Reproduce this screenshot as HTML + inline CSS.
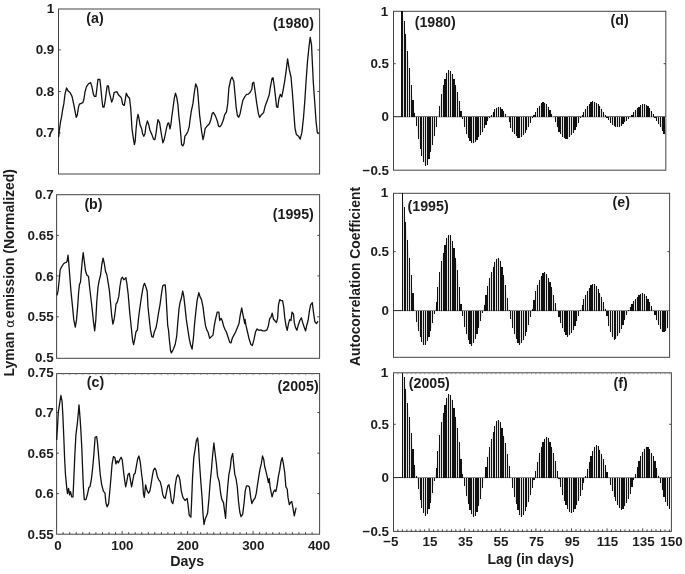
<!DOCTYPE html>
<html lang="en"><head><meta charset="utf-8"><title>Lyman alpha emission and autocorrelation</title>
<style>html,body{margin:0;padding:0;background:#fff}svg{display:block}</style></head>
<body>
<svg width="685" height="574" viewBox="0 0 685 574" style="display:block">
<rect width="685" height="574" fill="#fff"/>
<g fill="none" stroke="#444" stroke-width="1">
<rect x="58.5" y="9.0" width="261.1" height="165.0"/>
<rect x="56.6" y="194.7" width="263.0" height="163.6"/>
<rect x="56.6" y="373.6" width="263.0" height="160.6"/>
<rect x="393.5" y="11.3" width="272.3" height="158.9"/>
<rect x="393.5" y="193.3" width="276.1" height="164.0"/>
<rect x="393.5" y="372.8" width="277.9" height="158.6"/>
</g>
<path d="M58.5 49.9 h2.2 M319.6 49.9 h-2.2 M58.5 91.5 h2.2 M319.6 91.5 h-2.2 M58.5 132.9 h2.2 M319.6 132.9 h-2.2 M56.6 235.4 h2.2 M319.6 235.4 h-2.2 M56.6 275.9 h2.2 M319.6 275.9 h-2.2 M56.6 316.8 h2.2 M319.6 316.8 h-2.2 M56.6 412.5 h2.2 M319.6 412.5 h-2.2 M56.6 453.2 h2.2 M319.6 453.2 h-2.2 M56.6 493.6 h2.2 M319.6 493.6 h-2.2 M63.1 534.2 v-2.0 M69.7 534.2 v-2.0 M76.2 534.2 v-2.0 M82.8 534.2 v-2.0 M89.3 534.2 v-2.0 M95.9 534.2 v-2.0 M102.5 534.2 v-2.0 M109.0 534.2 v-2.0 M115.5 534.2 v-2.0 M122.1 534.2 v-3.0 M128.7 534.2 v-2.0 M135.2 534.2 v-2.0 M141.8 534.2 v-2.0 M148.3 534.2 v-2.0 M154.8 534.2 v-2.0 M161.4 534.2 v-2.0 M167.9 534.2 v-2.0 M174.5 534.2 v-2.0 M181.1 534.2 v-2.0 M187.6 534.2 v-3.0 M194.1 534.2 v-2.0 M200.7 534.2 v-2.0 M207.2 534.2 v-2.0 M213.8 534.2 v-2.0 M220.3 534.2 v-2.0 M226.9 534.2 v-2.0 M233.4 534.2 v-2.0 M240.0 534.2 v-2.0 M246.5 534.2 v-2.0 M253.1 534.2 v-3.0 M259.6 534.2 v-2.0 M266.2 534.2 v-2.0 M272.8 534.2 v-2.0 M279.3 534.2 v-2.0 M285.9 534.2 v-2.0 M292.4 534.2 v-2.0 M298.9 534.2 v-2.0 M305.5 534.2 v-2.0 M312.1 534.2 v-2.0 M393.5 63.7 h2.2 M665.8 63.7 h-2.2 M393.5 251.6 h2.2 M669.6 251.6 h-2.2 M393.5 424.3 h2.2 M671.4 424.3 h-2.2 M397.9 531.4 v-2.0 M402.4 531.4 v-2.0 M406.9 531.4 v-2.0 M411.3 531.4 v-2.0 M415.8 531.4 v-2.0 M420.2 531.4 v-2.0 M424.6 531.4 v-2.0 M429.1 531.4 v-3.0 M433.6 531.4 v-2.0 M438.0 531.4 v-2.0 M442.4 531.4 v-2.0 M446.9 531.4 v-2.0 M451.4 531.4 v-2.0 M455.8 531.4 v-2.0 M460.2 531.4 v-2.0 M464.7 531.4 v-3.0 M469.1 531.4 v-2.0 M473.6 531.4 v-2.0 M478.1 531.4 v-2.0 M482.5 531.4 v-2.0 M486.9 531.4 v-2.0 M491.4 531.4 v-2.0 M495.9 531.4 v-2.0 M500.3 531.4 v-3.0 M504.8 531.4 v-2.0 M509.2 531.4 v-2.0 M513.6 531.4 v-2.0 M518.1 531.4 v-2.0 M522.5 531.4 v-2.0 M527.0 531.4 v-2.0 M531.5 531.4 v-2.0 M535.9 531.4 v-3.0 M540.4 531.4 v-2.0 M544.8 531.4 v-2.0 M549.2 531.4 v-2.0 M553.7 531.4 v-2.0 M558.1 531.4 v-2.0 M562.6 531.4 v-2.0 M567.0 531.4 v-2.0 M571.5 531.4 v-3.0 M576.0 531.4 v-2.0 M580.4 531.4 v-2.0 M584.9 531.4 v-2.0 M589.3 531.4 v-2.0 M593.8 531.4 v-2.0 M598.2 531.4 v-2.0 M602.6 531.4 v-2.0 M607.1 531.4 v-3.0 M611.5 531.4 v-2.0 M616.0 531.4 v-2.0 M620.5 531.4 v-2.0 M624.9 531.4 v-2.0 M629.4 531.4 v-2.0 M633.8 531.4 v-2.0 M638.2 531.4 v-2.0 M642.7 531.4 v-3.0 M647.1 531.4 v-2.0 M651.6 531.4 v-2.0 M656.0 531.4 v-2.0 M660.5 531.4 v-2.0 M665.0 531.4 v-2.0 M669.4 531.4 v-2.0" stroke="#444" stroke-width="1" fill="none"/>
<path d="M63.1 373.6 v1.5 M69.7 373.6 v1.5 M76.2 373.6 v1.5 M82.8 373.6 v1.5 M89.3 373.6 v1.5 M95.9 373.6 v1.5 M102.5 373.6 v1.5 M109.0 373.6 v1.5 M115.5 373.6 v1.5 M122.1 373.6 v1.5 M128.7 373.6 v1.5 M135.2 373.6 v1.5 M141.8 373.6 v1.5 M148.3 373.6 v1.5 M154.8 373.6 v1.5 M161.4 373.6 v1.5 M167.9 373.6 v1.5 M174.5 373.6 v1.5 M181.1 373.6 v1.5 M187.6 373.6 v1.5 M194.1 373.6 v1.5 M200.7 373.6 v1.5 M207.2 373.6 v1.5 M213.8 373.6 v1.5 M220.3 373.6 v1.5 M226.9 373.6 v1.5 M233.4 373.6 v1.5 M240.0 373.6 v1.5 M246.5 373.6 v1.5 M253.1 373.6 v1.5 M259.6 373.6 v1.5 M266.2 373.6 v1.5 M272.8 373.6 v1.5 M279.3 373.6 v1.5 M285.9 373.6 v1.5 M292.4 373.6 v1.5 M298.9 373.6 v1.5 M305.5 373.6 v1.5 M312.1 373.6 v1.5 M397.9 372.8 v1.5 M402.4 372.8 v1.5 M406.9 372.8 v1.5 M411.3 372.8 v1.5 M415.8 372.8 v1.5 M420.2 372.8 v1.5 M424.6 372.8 v1.5 M429.1 372.8 v1.5 M433.6 372.8 v1.5 M438.0 372.8 v1.5 M442.4 372.8 v1.5 M446.9 372.8 v1.5 M451.4 372.8 v1.5 M455.8 372.8 v1.5 M460.2 372.8 v1.5 M464.7 372.8 v1.5 M469.1 372.8 v1.5 M473.6 372.8 v1.5 M478.1 372.8 v1.5 M482.5 372.8 v1.5 M486.9 372.8 v1.5 M491.4 372.8 v1.5 M495.9 372.8 v1.5 M500.3 372.8 v1.5 M504.8 372.8 v1.5 M509.2 372.8 v1.5 M513.6 372.8 v1.5 M518.1 372.8 v1.5 M522.5 372.8 v1.5 M527.0 372.8 v1.5 M531.5 372.8 v1.5 M535.9 372.8 v1.5 M540.4 372.8 v1.5 M544.8 372.8 v1.5 M549.2 372.8 v1.5 M553.7 372.8 v1.5 M558.1 372.8 v1.5 M562.6 372.8 v1.5 M567.0 372.8 v1.5 M571.5 372.8 v1.5 M576.0 372.8 v1.5 M580.4 372.8 v1.5 M584.9 372.8 v1.5 M589.3 372.8 v1.5 M593.8 372.8 v1.5 M598.2 372.8 v1.5 M602.6 372.8 v1.5 M607.1 372.8 v1.5 M611.5 372.8 v1.5 M616.0 372.8 v1.5 M620.5 372.8 v1.5 M624.9 372.8 v1.5 M629.4 372.8 v1.5 M633.8 372.8 v1.5 M638.2 372.8 v1.5 M642.7 372.8 v1.5 M647.1 372.8 v1.5 M651.6 372.8 v1.5 M656.0 372.8 v1.5 M660.5 372.8 v1.5 M665.0 372.8 v1.5 M669.4 372.8 v1.5" stroke="#888" stroke-width="0.8" fill="none"/>
<path d="M393.5 116.7 H665.8 M393.5 310.6 H669.6 M393.5 477.6 H671.4" stroke="#222" stroke-width="1" fill="none"/>
<g fill="none" stroke="#111" stroke-width="1.3" stroke-linejoin="round" stroke-linecap="round">
<path d="M58.7 136.6 L59.2 131.5 L59.6 128.3 L60.5 122.2 L61.7 116.1 L62.6 110.0 L63.8 103.9 L65.0 94.1 L66.6 88.0 L68.2 91.1 L70.2 92.7 L72.1 96.6 L73.9 105.1 L75.5 113.7 L76.3 117.3 L77.3 114.9 L78.4 107.6 L79.4 104.1 L81.2 103.3 L82.8 102.7 L84.0 99.0 L84.9 92.3 L86.5 86.6 L88.5 83.8 L90.6 82.6 L91.8 86.2 L93.4 94.1 L94.3 96.3 L95.9 96.3 L96.8 89.3 L97.9 79.5 L99.9 79.5 L100.7 86.8 L102.0 100.2 L102.8 107.0 L104.0 107.0 L105.0 102.1 L106.2 92.9 L107.2 85.9 L108.4 85.9 L109.3 92.3 L110.5 97.2 L111.7 102.1 L112.9 99.0 L114.1 92.7 L115.6 92.0 L117.2 92.0 L118.4 94.8 L120.9 97.2 L121.5 98.3 L122.7 104.4 L124.3 105.4 L125.5 98.3 L126.3 93.2 L127.9 96.5 L129.5 98.3 L130.7 108.0 L132.0 128.8 L133.2 137.3 L134.4 144.6 L135.2 141.0 L136.1 128.8 L137.1 119.0 L138.0 114.4 L138.9 117.8 L140.1 125.1 L141.7 128.8 L142.6 133.7 L143.8 136.3 L145.0 133.7 L145.9 126.3 L147.4 120.9 L148.7 124.5 L149.9 130.0 L152.0 134.9 L153.5 139.1 L154.8 139.8 L156.0 133.7 L157.0 125.7 L158.0 119.6 L159.6 122.7 L160.9 131.2 L162.1 138.5 L162.9 142.8 L164.1 139.8 L165.4 133.7 L166.6 127.6 L167.8 123.3 L168.8 122.9 L170.0 128.8 L171.0 123.9 L171.8 116.6 L173.0 108.0 L174.3 98.3 L175.5 93.2 L176.7 97.1 L177.9 104.4 L178.8 115.4 L180.0 126.3 L181.0 137.3 L181.6 144.6 L182.8 145.9 L184.0 143.4 L184.9 136.1 L186.5 134.3 L188.0 131.2 L189.3 126.3 L189.9 121.0 L191.3 111.2 L192.9 103.9 L194.1 94.1 L195.7 83.8 L197.4 88.0 L198.4 100.2 L199.6 114.9 L201.5 130.5 L203.0 139.6 L204.3 134.1 L205.1 128.7 L207.0 126.2 L209.4 123.8 L210.9 119.5 L212.1 113.7 L213.3 112.4 L215.5 116.1 L217.3 121.0 L218.5 125.9 L219.8 126.8 L221.6 124.6 L223.4 119.8 L224.6 114.9 L226.5 111.8 L227.7 103.9 L228.9 88.0 L230.7 79.5 L232.0 77.1 L233.8 81.3 L235.0 94.1 L236.2 107.6 L237.4 115.5 L238.7 117.3 L240.1 113.7 L241.3 107.6 L242.9 100.2 L244.8 96.6 L246.6 94.4 L248.4 94.1 L250.2 92.3 L251.8 89.3 L252.5 83.3 L253.8 82.3 L255.0 90.6 L256.7 103.2 L258.4 113.6 L259.6 117.4 L261.5 114.7 L263.6 112.6 L265.1 106.3 L267.1 101.1 L269.2 94.8 L270.5 86.4 L272.0 78.5 L273.0 77.7 L274.3 86.4 L275.5 96.9 L276.6 106.9 L277.8 107.4 L278.9 99.0 L280.3 94.4 L281.8 96.9 L283.0 90.6 L284.5 82.3 L286.0 71.8 L287.6 58.9 L289.3 69.7 L291.0 77.0 L292.4 92.7 L293.9 113.6 L295.0 128.3 L296.4 134.5 L298.5 136.2 L300.2 139.1 L301.9 132.4 L303.5 117.8 L304.8 101.1 L306.0 82.3 L307.5 61.4 L309.0 46.7 L310.2 37.3 L311.5 44.6 L312.3 61.4 L313.3 82.3 L314.8 103.2 L316.1 122.0 L317.3 132.4 L318.2 133.5"/>
<path d="M57.1 294.8 L58.1 290.6 L59.2 280.2 L60.2 269.7 L61.7 266.6 L63.8 263.5 L65.9 262.4 L67.1 261.4 L68.0 255.1 L68.8 263.5 L69.6 273.9 L70.9 290.6 L72.6 307.4 L73.8 319.9 L75.3 327.2 L76.5 319.9 L77.6 307.4 L78.6 292.7 L79.5 284.4 L80.5 282.3 L81.3 271.8 L82.4 259.3 L83.2 252.6 L84.3 261.4 L85.5 270.8 L86.8 275.0 L88.5 276.4 L89.5 286.4 L91.0 299.0 L92.2 309.4 L93.5 322.0 L94.7 330.8 L95.8 319.9 L96.8 301.1 L98.1 286.4 L99.3 280.2 L100.6 275.0 L101.8 264.5 L103.1 258.2 L104.3 263.5 L105.6 271.8 L106.9 275.0 L108.1 282.3 L109.4 290.6 L110.6 303.2 L111.7 315.7 L112.9 324.1 L114.2 318.9 L115.2 311.5 L116.0 304.2 L117.3 302.1 L118.8 296.4 L120.0 286.0 L121.3 278.7 L122.5 277.2 L123.8 279.7 L125.0 278.7 L125.9 277.6 L126.9 283.9 L128.2 294.4 L129.6 311.1 L131.3 327.8 L132.6 340.4 L133.6 344.5 L134.9 338.3 L135.9 332.0 L137.4 329.9 L138.4 319.4 L139.7 309.0 L140.9 300.6 L142.2 292.3 L143.4 286.0 L144.5 283.3 L145.9 287.0 L147.2 291.2 L148.0 306.9 L149.3 319.4 L150.5 329.9 L151.8 336.6 L153.1 337.2 L154.3 332.0 L156.0 327.8 L157.2 321.5 L158.5 313.2 L160.0 304.8 L161.4 294.4 L162.7 286.0 L163.9 285.0 L165.2 285.0 L166.0 294.4 L166.9 311.1 L167.7 325.7 L168.5 329.9 L169.4 340.4 L170.6 350.8 L171.4 352.9 L173.1 349.8 L175.2 344.5 L176.7 336.2 L177.7 323.6 L179.0 309.0 L180.0 302.7 L181.3 298.5 L182.7 291.2 L183.8 296.4 L185.0 306.9 L186.3 319.4 L187.9 329.9 L189.2 338.3 L190.5 344.5 L192.1 349.1 L193.4 338.3 L194.6 323.6 L195.9 311.1 L197.1 300.6 L198.8 292.7 L200.1 296.9 L201.5 299.6 L203.0 306.9 L204.3 317.4 L205.5 325.7 L206.8 329.9 L208.0 332.0 L209.7 338.3 L211.4 336.6 L213.0 335.1 L214.3 325.7 L215.5 319.4 L217.2 312.1 L218.9 312.1 L219.7 320.5 L221.0 318.4 L222.2 320.5 L223.5 325.7 L225.0 329.5 L226.4 332.0 L228.1 337.2 L229.8 342.4 L231.0 342.9 L232.3 338.3 L233.9 335.1 L235.6 332.0 L237.3 327.8 L239.0 323.6 L240.2 315.3 L241.7 307.9 L243.1 315.3 L244.8 323.6 L245.0 319.4 L246.0 325.7 L247.5 332.0 L249.2 339.3 L250.9 344.5 L252.3 345.6 L253.8 340.4 L255.5 332.0 L257.1 328.9 L258.8 330.3 L260.7 329.9 L262.8 330.9 L264.9 330.9 L267.0 329.9 L268.4 325.7 L269.7 318.4 L270.9 317.4 L272.2 313.2 L273.4 319.0 L274.7 320.5 L276.4 322.6 L277.6 318.4 L278.5 304.8 L279.7 299.6 L281.0 300.6 L282.6 300.6 L283.7 306.9 L284.7 317.4 L286.0 325.7 L287.2 330.3 L288.5 323.6 L289.7 319.4 L291.0 320.5 L292.0 312.1 L293.5 314.2 L294.3 322.6 L295.6 327.8 L296.9 330.3 L298.1 325.7 L299.8 320.5 L301.4 317.8 L302.7 322.6 L304.4 327.8 L305.6 330.9 L306.9 324.7 L308.1 320.5 L309.4 311.1 L310.6 304.8 L312.3 302.7 L313.6 313.2 L314.8 321.5 L316.5 323.6 L317.8 321.5"/>
<path d="M56.7 439.4 L57.5 426.8 L58.3 412.2 L59.6 403.8 L60.9 395.5 L62.1 401.7 L62.9 416.4 L63.8 437.3 L64.6 458.2 L65.5 474.9 L66.7 487.4 L67.5 493.7 L68.6 488.5 L69.6 494.8 L70.5 491.6 L71.7 496.9 L73.0 496.9 L73.8 479.1 L74.9 454.0 L75.9 435.2 L77.2 424.7 L78.4 412.2 L79.0 404.9 L80.1 418.5 L80.9 431.0 L81.8 447.7 L82.6 468.6 L83.4 487.4 L84.3 499.6 L85.9 499.6 L87.6 493.7 L88.9 487.4 L90.1 486.4 L91.4 479.1 L92.6 468.6 L93.9 454.0 L95.1 437.3 L96.7 436.7 L97.5 443.0 L98.8 457.6 L100.2 474.4 L101.7 484.8 L103.4 491.1 L105.0 493.2 L105.9 502.6 L107.1 506.8 L108.6 503.6 L109.6 493.2 L110.9 478.5 L112.1 463.9 L113.4 456.6 L114.9 457.6 L115.9 463.9 L117.2 460.8 L118.4 462.9 L119.7 459.7 L121.1 457.2 L122.2 459.7 L123.4 470.2 L124.7 480.6 L125.7 486.9 L126.8 481.7 L128.0 474.4 L129.3 473.3 L130.5 480.6 L131.6 486.9 L132.6 481.7 L133.9 474.4 L135.1 473.3 L136.4 466.0 L137.7 458.7 L138.9 456.0 L140.2 461.8 L141.4 472.3 L142.7 482.7 L143.5 494.2 L144.3 497.4 L145.6 484.8 L146.9 490.0 L148.5 493.2 L149.8 491.1 L151.0 484.8 L152.3 476.4 L153.5 470.2 L154.8 468.1 L156.0 470.2 L157.3 476.4 L158.6 479.6 L160.2 481.7 L161.5 486.9 L162.7 494.2 L164.0 497.4 L165.2 498.4 L166.5 492.1 L167.8 485.9 L169.0 484.8 L170.3 492.1 L171.5 501.5 L172.8 503.6 L174.0 497.4 L175.3 484.8 L176.5 477.5 L177.8 474.8 L179.0 476.4 L180.0 480.6 L181.3 491.1 L182.9 497.4 L185.0 500.5 L187.1 498.4 L187.9 503.6 L189.2 515.1 L190.9 517.2 L191.7 499.4 L192.5 478.5 L193.8 457.6 L195.1 449.3 L196.3 440.9 L197.6 437.8 L198.4 445.1 L199.7 466.0 L200.9 482.7 L202.2 499.4 L203.0 514.1 L204.0 524.5 L205.1 519.3 L206.3 516.6 L207.6 513.0 L208.9 499.4 L210.1 482.7 L211.4 470.2 L212.6 455.5 L213.9 443.0 L215.1 453.5 L216.4 463.9 L217.6 476.4 L219.3 481.7 L220.6 493.2 L221.8 499.4 L223.5 502.6 L224.7 512.0 L225.6 518.3 L226.4 503.6 L227.7 486.9 L228.9 474.4 L230.2 468.1 L231.4 457.6 L232.7 453.5 L233.5 461.8 L234.8 474.4 L236.0 478.5 L237.3 486.9 L238.5 501.5 L239.8 512.0 L241.0 516.6 L242.7 514.1 L244.0 503.6 L245.2 491.1 L246.5 485.9 L248.2 485.9 L249.4 486.9 L250.7 497.4 L251.9 503.6 L253.2 500.5 L254.8 498.4 L255.0 498.4 L256.3 493.2 L257.5 484.8 L258.8 476.4 L260.0 469.1 L261.3 463.9 L262.5 456.0 L263.8 459.7 L264.6 466.0 L265.9 471.2 L267.1 476.4 L268.4 482.7 L269.2 478.5 L270.1 486.9 L271.3 493.2 L272.1 496.9 L273.4 492.1 L274.7 490.0 L275.9 491.5 L277.2 484.8 L278.4 476.4 L279.7 470.2 L280.9 461.8 L282.2 457.6 L283.4 463.9 L284.7 472.3 L285.9 486.9 L287.2 489.0 L288.0 497.4 L289.3 504.7 L290.5 502.6 L291.8 501.5 L293.1 508.9 L294.3 515.8 L295.1 512.0 L296.0 508.2"/>
</g>
<g fill="#e0e0e0">
<path d="M401.7 116.7 L402.3 11.3 L403.2 15.7 L404.1 21.3 L405.0 27.3 L405.9 34.0 L406.8 42.2 L407.6 51.0 L408.5 59.5 L409.4 67.9 L410.3 76.6 L411.2 84.9 L412.1 92.6 L413.0 99.7 L413.9 106.5 L414.8 112.9 L415.7 119.2 L416.5 125.8 L417.4 132.4 L418.3 138.6 L419.2 144.1 L420.1 148.5 L421.0 152.2 L421.9 155.9 L422.8 159.4 L423.7 162.3 L424.6 164.5 L425.4 165.8 L426.3 165.9 L427.2 164.7 L428.1 162.4 L429.0 159.3 L429.9 155.8 L430.8 152.1 L431.7 148.5 L432.6 144.8 L433.4 140.7 L434.3 136.3 L435.2 131.5 L436.1 126.6 L437.0 121.6 L437.9 116.7 L438.8 111.4 L439.7 105.5 L440.6 99.5 L441.5 93.8 L442.4 88.8 L443.2 84.9 L444.1 81.7 L445.0 78.6 L445.9 75.7 L446.8 73.2 L447.7 71.3 L448.6 70.2 L449.5 70.1 L450.4 70.9 L451.2 72.3 L452.1 74.3 L453.0 76.7 L453.9 79.3 L454.8 82.1 L455.7 84.9 L456.6 88.1 L457.5 92.0 L458.4 96.5 L459.3 101.3 L460.2 106.1 L461.0 110.8 L461.9 115.1 L462.8 119.0 L463.7 123.0 L464.6 126.9 L465.5 130.5 L466.4 133.5 L467.3 135.8 L468.2 137.6 L469.1 139.3 L469.9 140.8 L470.8 142.1 L471.7 143.0 L472.6 143.5 L473.5 143.4 L474.4 143.0 L475.3 142.3 L476.2 141.3 L477.1 140.1 L478.0 138.8 L478.8 137.4 L479.7 136.0 L480.6 134.7 L481.5 133.4 L482.4 131.8 L483.3 130.1 L484.2 128.4 L485.1 126.5 L486.0 124.7 L486.9 122.8 L487.7 121.0 L488.6 119.4 L489.5 117.8 L490.4 116.4 L491.3 115.1 L492.2 113.6 L493.1 112.1 L494.0 110.7 L494.9 109.5 L495.8 108.4 L496.6 107.5 L497.5 106.9 L498.4 106.7 L499.3 106.9 L500.2 107.4 L501.1 108.1 L502.0 109.1 L502.9 110.2 L503.8 111.5 L504.7 112.9 L505.5 114.3 L506.4 115.8 L507.3 117.4 L508.2 119.5 L509.1 122.1 L510.0 124.9 L510.9 127.6 L511.8 129.9 L512.7 131.5 L513.5 132.8 L514.4 134.0 L515.3 135.1 L516.2 136.1 L517.1 136.9 L518.0 137.5 L518.9 137.8 L519.8 137.9 L520.7 137.6 L521.6 137.0 L522.5 136.2 L523.3 135.3 L524.2 134.2 L525.1 133.0 L526.0 131.7 L526.9 130.5 L527.8 129.0 L528.7 127.1 L529.6 125.0 L530.5 122.7 L531.4 120.5 L532.2 118.5 L533.1 116.7 L534.0 115.1 L534.9 113.4 L535.8 111.7 L536.7 110.0 L537.6 108.4 L538.5 106.9 L539.4 105.5 L540.2 104.3 L541.1 103.4 L542.0 102.7 L542.9 102.4 L543.8 102.5 L544.7 102.8 L545.6 103.5 L546.5 104.4 L547.4 105.6 L548.3 107.0 L549.1 108.5 L550.0 110.1 L550.9 111.8 L551.8 113.6 L552.7 115.3 L553.6 117.1 L554.5 119.2 L555.4 121.9 L556.3 124.7 L557.2 127.4 L558.0 129.8 L558.9 131.5 L559.8 132.9 L560.7 134.2 L561.6 135.4 L562.5 136.5 L563.4 137.5 L564.3 138.2 L565.2 138.7 L566.1 139.0 L567.0 138.9 L567.8 138.5 L568.7 137.9 L569.6 137.1 L570.5 136.1 L571.4 135.1 L572.3 133.9 L573.2 132.7 L574.1 131.5 L575.0 130.2 L575.9 128.5 L576.7 126.6 L577.6 124.6 L578.5 122.5 L579.4 120.5 L580.3 118.5 L581.2 116.7 L582.1 115.0 L583.0 113.3 L583.9 111.6 L584.8 110.0 L585.6 108.5 L586.5 107.2 L587.4 106.1 L588.3 105.1 L589.2 104.1 L590.1 103.2 L591.0 102.4 L591.9 101.7 L592.8 101.4 L593.6 101.4 L594.5 101.6 L595.4 102.0 L596.3 102.7 L597.2 103.4 L598.1 104.3 L599.0 105.2 L599.9 106.1 L600.8 107.2 L601.7 108.7 L602.5 110.3 L603.4 112.1 L604.3 113.8 L605.2 115.4 L606.1 116.7 L607.0 117.9 L607.9 119.1 L608.8 120.3 L609.7 121.5 L610.6 122.6 L611.5 123.7 L612.3 124.7 L613.2 125.6 L614.1 126.3 L615.0 126.8 L615.9 127.2 L616.8 127.3 L617.7 127.2 L618.6 127.0 L619.5 126.6 L620.4 126.2 L621.2 125.6 L622.1 124.9 L623.0 124.1 L623.9 123.3 L624.8 122.4 L625.7 121.5 L626.6 120.6 L627.5 119.6 L628.4 118.7 L629.2 117.8 L630.1 116.9 L631.0 115.9 L631.9 114.9 L632.8 113.7 L633.7 112.4 L634.6 111.2 L635.5 110.1 L636.4 109.0 L637.3 108.2 L638.1 107.5 L639.0 106.8 L639.9 106.1 L640.8 105.4 L641.7 104.9 L642.6 104.4 L643.5 104.1 L644.4 104.0 L645.3 104.1 L646.2 104.6 L647.0 105.3 L647.9 106.2 L648.8 107.2 L649.7 108.2 L650.6 109.4 L651.5 110.9 L652.4 112.6 L653.3 114.3 L654.2 116.0 L655.1 117.7 L656.0 119.3 L656.8 120.9 L657.7 122.5 L658.6 124.1 L659.5 125.8 L660.4 127.4 L661.3 129.1 L662.2 130.7 L663.1 132.4 L664.0 134.1 L664.9 135.8 L665.5 116.7 Z"/>
<path d="M401.7 310.6 L402.3 193.3 L403.2 199.5 L404.1 206.8 L405.0 214.2 L405.9 222.1 L406.8 230.8 L407.6 239.8 L408.5 248.7 L409.4 257.5 L410.3 266.4 L411.2 275.2 L412.1 284.1 L413.0 292.9 L413.9 302.4 L414.8 310.6 L415.7 316.7 L416.5 322.2 L417.4 326.9 L418.3 330.9 L419.2 334.2 L420.1 337.1 L421.0 339.9 L421.9 342.3 L422.8 344.2 L423.7 345.3 L424.6 345.5 L425.4 344.7 L426.3 343.4 L427.2 341.5 L428.1 339.2 L429.0 336.7 L429.9 334.2 L430.8 331.3 L431.7 327.6 L432.6 323.3 L433.4 318.6 L434.3 313.7 L435.2 308.4 L436.1 302.1 L437.0 294.9 L437.9 287.3 L438.8 279.6 L439.7 272.4 L440.6 266.1 L441.5 261.0 L442.4 256.8 L443.2 252.5 L444.1 248.4 L445.0 244.6 L445.9 241.1 L446.8 238.3 L447.7 236.1 L448.6 234.8 L449.5 234.5 L450.4 235.4 L451.2 237.5 L452.1 240.5 L453.0 244.2 L453.9 248.5 L454.8 253.0 L455.7 257.5 L456.6 263.0 L457.5 270.3 L458.4 278.6 L459.3 287.4 L460.2 296.0 L461.0 304.0 L461.9 310.6 L462.8 316.3 L463.7 321.7 L464.6 326.6 L465.5 330.9 L466.4 334.2 L467.3 337.0 L468.2 339.7 L469.1 342.1 L469.9 344.0 L470.8 345.2 L471.7 345.5 L472.6 344.9 L473.5 343.5 L474.4 341.5 L475.3 339.2 L476.2 336.7 L477.1 334.2 L478.0 331.5 L478.8 328.3 L479.7 324.7 L480.6 320.9 L481.5 316.9 L482.4 312.9 L483.3 309.0 L484.2 304.8 L485.1 300.2 L486.0 295.5 L486.9 290.8 L487.7 286.2 L488.6 282.0 L489.5 278.3 L490.4 275.2 L491.3 272.4 L492.2 269.6 L493.1 266.9 L494.0 264.3 L494.9 262.0 L495.8 260.1 L496.6 258.6 L497.5 257.7 L498.4 257.5 L499.3 258.5 L500.2 260.7 L501.1 263.7 L502.0 267.4 L502.9 271.3 L503.8 275.2 L504.7 279.7 L505.5 285.3 L506.4 291.5 L507.3 298.0 L508.2 304.1 L509.1 309.6 L510.0 314.4 L510.9 319.1 L511.8 323.6 L512.7 327.7 L513.5 331.3 L514.4 334.2 L515.3 336.8 L516.2 339.3 L517.1 341.6 L518.0 343.4 L518.9 344.4 L519.8 344.5 L520.7 344.0 L521.6 343.1 L522.5 341.7 L523.3 340.1 L524.2 338.2 L525.1 336.2 L526.0 334.2 L526.9 331.8 L527.8 328.6 L528.7 325.0 L529.6 321.1 L530.5 317.0 L531.4 312.9 L532.2 309.0 L533.1 304.7 L534.0 300.1 L534.9 295.5 L535.8 291.2 L536.7 287.5 L537.6 284.6 L538.5 282.3 L539.4 280.1 L540.2 277.9 L541.1 276.0 L542.0 274.4 L542.9 273.2 L543.8 272.4 L544.7 272.3 L545.6 272.8 L546.5 273.9 L547.4 275.6 L548.3 277.6 L549.1 279.8 L550.0 282.2 L550.9 284.6 L551.8 287.4 L552.7 290.9 L553.6 294.8 L554.5 298.9 L555.4 303.1 L556.3 307.0 L557.2 310.6 L558.0 313.9 L558.9 317.2 L559.8 320.5 L560.7 323.5 L561.6 326.1 L562.5 328.3 L563.4 330.3 L564.3 332.2 L565.2 334.0 L566.1 335.4 L567.0 336.3 L567.8 336.5 L568.7 336.2 L569.6 335.5 L570.5 334.4 L571.4 333.0 L572.3 331.5 L573.2 329.9 L574.1 328.3 L575.0 326.4 L575.9 324.1 L576.7 321.4 L577.6 318.5 L578.5 315.6 L579.4 312.7 L580.3 310.1 L581.2 307.5 L582.1 304.7 L583.0 302.0 L583.9 299.4 L584.8 296.9 L585.6 294.7 L586.5 292.9 L587.4 291.3 L588.3 289.6 L589.2 288.0 L590.1 286.5 L591.0 285.3 L591.9 284.3 L592.8 283.7 L593.6 283.6 L594.5 284.0 L595.4 284.8 L596.3 286.1 L597.2 287.6 L598.1 289.3 L599.0 291.1 L599.9 292.9 L600.8 294.8 L601.7 297.1 L602.5 299.6 L603.4 302.4 L604.3 305.4 L605.2 308.6 L606.1 312.1 L607.0 316.5 L607.9 321.3 L608.8 325.9 L609.7 329.5 L610.6 332.3 L611.5 335.1 L612.3 337.4 L613.2 339.0 L614.1 339.6 L615.0 339.4 L615.9 338.7 L616.8 337.6 L617.7 336.2 L618.6 334.6 L619.5 332.9 L620.4 331.2 L621.2 329.5 L622.1 327.6 L623.0 325.2 L623.9 322.6 L624.8 319.9 L625.7 317.2 L626.6 314.5 L627.5 312.2 L628.4 310.2 L629.2 308.5 L630.1 306.8 L631.0 305.2 L631.9 303.7 L632.8 302.3 L633.7 301.0 L634.6 299.8 L635.5 298.8 L636.4 297.8 L637.3 296.8 L638.1 295.8 L639.0 294.9 L639.9 294.1 L640.8 293.5 L641.7 293.2 L642.6 293.2 L643.5 293.5 L644.4 294.2 L645.3 295.2 L646.2 296.3 L647.0 297.6 L647.9 298.8 L648.8 300.2 L649.7 302.0 L650.6 304.0 L651.5 306.2 L652.4 308.4 L653.3 310.6 L654.2 312.9 L655.1 315.4 L656.0 317.9 L656.8 320.4 L657.7 322.8 L658.6 324.8 L659.5 326.7 L660.4 328.7 L661.3 330.4 L662.2 331.7 L663.1 332.2 L664.0 332.1 L664.9 331.7 L665.7 330.9 L666.6 329.8 L667.5 328.3 L668.4 326.2 L669.0 310.6 Z"/>
<path d="M401.7 477.6 L402.3 372.8 L403.2 373.6 L404.1 377.4 L405.0 382.7 L405.9 389.1 L406.8 395.9 L407.6 403.0 L408.5 409.8 L409.4 416.8 L410.3 424.7 L411.2 432.8 L412.1 440.8 L413.0 448.8 L413.9 457.1 L414.8 464.8 L415.7 470.9 L416.5 476.5 L417.4 482.4 L418.3 488.7 L419.2 494.8 L420.1 500.2 L421.0 504.2 L421.9 507.5 L422.8 510.6 L423.7 513.3 L424.6 515.2 L425.4 516.1 L426.3 515.7 L427.2 514.3 L428.1 512.0 L429.0 509.2 L429.9 506.1 L430.8 502.9 L431.7 498.6 L432.6 493.4 L433.4 487.5 L434.3 481.3 L435.2 475.0 L436.1 467.7 L437.0 459.5 L437.9 450.9 L438.8 442.5 L439.7 434.5 L440.6 427.6 L441.5 422.2 L442.4 417.6 L443.2 413.1 L444.1 408.7 L445.0 404.7 L445.9 401.1 L446.8 398.1 L447.7 395.8 L448.6 394.5 L449.5 394.2 L450.4 395.1 L451.2 397.1 L452.1 400.0 L453.0 403.8 L453.9 408.0 L454.8 412.6 L455.7 417.4 L456.6 422.2 L457.5 427.7 L458.4 434.5 L459.3 442.2 L460.2 450.5 L461.0 458.8 L461.9 466.7 L462.8 473.9 L463.7 479.9 L464.6 485.8 L465.5 491.4 L466.4 496.5 L467.3 500.8 L468.2 504.2 L469.1 507.1 L469.9 509.8 L470.8 512.3 L471.7 514.4 L472.6 515.9 L473.5 516.6 L474.4 516.5 L475.3 515.5 L476.2 513.8 L477.1 511.5 L478.0 508.9 L478.8 506.0 L479.7 503.0 L480.6 498.9 L481.5 493.9 L482.4 488.4 L483.3 482.8 L484.2 477.6 L485.1 472.6 L486.0 467.4 L486.9 462.1 L487.7 456.8 L488.6 451.8 L489.5 447.1 L490.4 442.8 L491.3 439.2 L492.2 435.9 L493.1 432.4 L494.0 429.1 L494.9 426.0 L495.8 423.4 L496.6 421.4 L497.5 420.2 L498.4 419.8 L499.3 420.7 L500.2 422.5 L501.1 425.1 L502.0 428.2 L502.9 431.8 L503.8 435.5 L504.7 439.2 L505.5 443.4 L506.4 448.5 L507.3 454.3 L508.2 460.4 L509.1 466.5 L510.0 472.3 L510.9 477.6 L511.8 482.6 L512.7 487.6 L513.5 492.4 L514.4 496.9 L515.3 500.9 L516.2 504.2 L517.1 507.2 L518.0 510.2 L518.9 512.8 L519.8 515.0 L520.7 516.4 L521.6 516.7 L522.5 516.2 L523.3 515.0 L524.2 513.3 L525.1 511.3 L526.0 509.0 L526.9 506.6 L527.8 504.2 L528.7 501.7 L529.6 498.7 L530.5 495.3 L531.4 491.7 L532.2 487.8 L533.1 483.9 L534.0 479.9 L534.9 476.0 L535.8 471.5 L536.7 466.6 L537.6 461.7 L538.5 457.1 L539.4 453.0 L540.2 449.9 L541.1 447.3 L542.0 444.8 L542.9 442.4 L543.8 440.3 L544.7 438.6 L545.6 437.4 L546.5 436.7 L547.4 436.8 L548.3 437.8 L549.1 439.5 L550.0 441.8 L550.9 444.3 L551.8 447.1 L552.7 449.9 L553.6 453.0 L554.5 457.0 L555.4 461.4 L556.3 466.0 L557.2 470.7 L558.0 475.1 L558.9 479.2 L559.8 483.3 L560.7 487.4 L561.6 491.5 L562.5 495.2 L563.4 498.5 L564.3 501.1 L565.2 503.3 L566.1 505.5 L567.0 507.5 L567.8 509.4 L568.7 511.0 L569.6 512.2 L570.5 512.9 L571.4 513.1 L572.3 512.7 L573.2 511.8 L574.1 510.5 L575.0 509.0 L575.9 507.1 L576.7 505.1 L577.6 503.1 L578.5 501.1 L579.4 498.8 L580.3 496.1 L581.2 493.1 L582.1 489.8 L583.0 486.4 L583.9 482.9 L584.8 479.6 L585.6 476.3 L586.5 472.8 L587.4 469.2 L588.3 465.6 L589.2 462.1 L590.1 459.0 L591.0 456.3 L591.9 453.8 L592.8 451.2 L593.6 448.8 L594.5 446.8 L595.4 445.5 L596.3 445.0 L597.2 445.3 L598.1 446.3 L599.0 447.9 L599.9 449.7 L600.8 451.9 L601.7 454.1 L602.5 456.3 L603.4 458.7 L604.3 461.6 L605.2 464.8 L606.1 468.2 L607.0 471.7 L607.9 475.1 L608.8 478.2 L609.7 481.4 L610.6 484.7 L611.5 487.9 L612.3 491.1 L613.2 494.1 L614.1 496.7 L615.0 498.9 L615.9 500.9 L616.8 503.0 L617.7 504.9 L618.6 506.7 L619.5 508.1 L620.4 509.1 L621.2 509.6 L622.1 509.4 L623.0 508.8 L623.9 507.7 L624.8 506.3 L625.7 504.6 L626.6 502.8 L627.5 500.9 L628.4 498.9 L629.2 496.7 L630.1 493.8 L631.0 490.6 L631.9 487.1 L632.8 483.6 L633.7 480.2 L634.6 477.0 L635.5 473.8 L636.4 470.5 L637.3 467.3 L638.1 464.1 L639.0 461.1 L639.9 458.5 L640.8 456.3 L641.7 454.3 L642.6 452.2 L643.5 450.3 L644.4 448.6 L645.3 447.3 L646.2 446.6 L647.0 446.5 L647.9 447.0 L648.8 447.9 L649.7 449.2 L650.6 450.7 L651.5 452.5 L652.4 454.4 L653.3 456.3 L654.2 458.5 L655.1 461.4 L656.0 464.7 L656.8 468.2 L657.7 471.9 L658.6 475.5 L659.5 479.0 L660.4 482.7 L661.3 486.6 L662.2 490.4 L663.1 493.9 L664.0 496.8 L664.9 499.3 L665.7 501.6 L666.6 503.7 L667.5 505.6 L668.4 507.2 L669.3 508.5 L669.9 477.6 Z"/>
</g>
<g fill="#111" shape-rendering="crispEdges">
<rect x="401.30" y="11.30" width="2.00" height="105.40"/>
<rect x="403.50" y="21.30" width="1.16" height="95.40"/>
<rect x="405.28" y="34.02" width="1.16" height="82.68"/>
<rect x="407.06" y="50.98" width="1.16" height="65.72"/>
<rect x="408.84" y="67.94" width="1.16" height="48.76"/>
<rect x="410.62" y="84.90" width="1.16" height="31.80"/>
<rect x="412.40" y="99.74" width="1.16" height="16.96"/>
<rect x="414.18" y="112.94" width="1.16" height="3.76"/>
<rect x="415.96" y="116.70" width="1.16" height="9.09"/>
<rect x="417.74" y="116.70" width="1.16" height="21.91"/>
<rect x="419.52" y="116.70" width="1.16" height="31.80"/>
<rect x="421.30" y="116.70" width="1.16" height="39.24"/>
<rect x="423.08" y="116.70" width="1.16" height="45.58"/>
<rect x="424.86" y="116.70" width="1.16" height="49.07"/>
<rect x="426.64" y="116.70" width="1.16" height="47.96"/>
<rect x="428.42" y="116.70" width="1.16" height="42.60"/>
<rect x="430.20" y="116.70" width="1.16" height="35.37"/>
<rect x="431.98" y="116.70" width="1.16" height="28.14"/>
<rect x="433.76" y="116.70" width="1.16" height="19.55"/>
<rect x="435.54" y="116.70" width="1.16" height="9.92"/>
<rect x="439.10" y="105.51" width="1.16" height="11.19"/>
<rect x="440.88" y="93.79" width="1.16" height="22.91"/>
<rect x="442.66" y="84.90" width="1.16" height="31.80"/>
<rect x="444.44" y="78.55" width="1.16" height="38.15"/>
<rect x="446.22" y="73.18" width="1.16" height="43.52"/>
<rect x="448.00" y="70.25" width="1.16" height="46.45"/>
<rect x="449.78" y="70.87" width="1.16" height="45.83"/>
<rect x="451.56" y="74.27" width="1.16" height="42.43"/>
<rect x="453.34" y="79.32" width="1.16" height="37.38"/>
<rect x="455.12" y="84.90" width="1.16" height="31.80"/>
<rect x="456.90" y="92.03" width="1.16" height="24.67"/>
<rect x="458.68" y="101.28" width="1.16" height="15.42"/>
<rect x="460.46" y="110.82" width="1.16" height="5.88"/>
<rect x="462.24" y="116.70" width="1.16" height="2.31"/>
<rect x="464.02" y="116.70" width="1.16" height="10.17"/>
<rect x="465.80" y="116.70" width="1.16" height="16.81"/>
<rect x="467.58" y="116.70" width="1.16" height="20.87"/>
<rect x="469.36" y="116.70" width="1.16" height="24.11"/>
<rect x="471.14" y="116.70" width="1.16" height="26.30"/>
<rect x="472.92" y="116.70" width="1.16" height="26.74"/>
<rect x="474.70" y="116.70" width="1.16" height="25.58"/>
<rect x="476.48" y="116.70" width="1.16" height="23.40"/>
<rect x="478.26" y="116.70" width="1.16" height="20.71"/>
<rect x="480.04" y="116.70" width="1.16" height="18.02"/>
<rect x="481.82" y="116.70" width="1.16" height="15.12"/>
<rect x="483.60" y="116.70" width="1.16" height="11.66"/>
<rect x="485.38" y="116.70" width="1.16" height="7.96"/>
<rect x="487.16" y="116.70" width="1.16" height="4.34"/>
<rect x="488.94" y="116.70" width="1.16" height="1.11"/>
<rect x="490.72" y="115.05" width="1.16" height="1.65"/>
<rect x="492.50" y="112.14" width="1.16" height="4.56"/>
<rect x="494.28" y="109.46" width="1.16" height="7.24"/>
<rect x="496.06" y="107.50" width="1.16" height="9.20"/>
<rect x="497.84" y="106.74" width="1.16" height="9.96"/>
<rect x="499.62" y="107.37" width="1.16" height="9.33"/>
<rect x="501.40" y="109.05" width="1.16" height="7.65"/>
<rect x="503.18" y="111.48" width="1.16" height="5.22"/>
<rect x="504.96" y="114.33" width="1.16" height="2.37"/>
<rect x="506.74" y="116.70" width="1.16" height="0.65"/>
<rect x="508.52" y="116.70" width="1.16" height="5.37"/>
<rect x="510.30" y="116.70" width="1.16" height="10.85"/>
<rect x="512.08" y="116.70" width="1.16" height="14.84"/>
<rect x="513.86" y="116.70" width="1.16" height="17.28"/>
<rect x="515.64" y="116.70" width="1.16" height="19.39"/>
<rect x="517.42" y="116.70" width="1.16" height="20.80"/>
<rect x="519.20" y="116.70" width="1.16" height="21.17"/>
<rect x="520.98" y="116.70" width="1.16" height="20.33"/>
<rect x="522.76" y="116.70" width="1.16" height="18.58"/>
<rect x="524.54" y="116.70" width="1.16" height="16.27"/>
<rect x="526.32" y="116.70" width="1.16" height="13.78"/>
<rect x="528.10" y="116.70" width="1.16" height="10.43"/>
<rect x="529.88" y="116.70" width="1.16" height="6.05"/>
<rect x="531.66" y="116.70" width="1.16" height="1.76"/>
<rect x="533.44" y="115.09" width="1.16" height="1.61"/>
<rect x="535.22" y="111.71" width="1.16" height="4.99"/>
<rect x="537.00" y="108.40" width="1.16" height="8.30"/>
<rect x="538.78" y="105.51" width="1.16" height="11.19"/>
<rect x="540.56" y="103.40" width="1.16" height="13.30"/>
<rect x="542.34" y="102.42" width="1.16" height="14.28"/>
<rect x="544.12" y="102.83" width="1.16" height="13.87"/>
<rect x="545.90" y="104.45" width="1.16" height="12.25"/>
<rect x="547.68" y="106.98" width="1.16" height="9.72"/>
<rect x="549.46" y="110.12" width="1.16" height="6.58"/>
<rect x="551.24" y="113.57" width="1.16" height="3.13"/>
<rect x="553.02" y="116.70" width="1.16" height="0.36"/>
<rect x="554.80" y="116.70" width="1.16" height="5.16"/>
<rect x="556.58" y="116.70" width="1.16" height="10.72"/>
<rect x="558.36" y="116.70" width="1.16" height="14.84"/>
<rect x="560.14" y="116.70" width="1.16" height="17.48"/>
<rect x="561.92" y="116.70" width="1.16" height="19.82"/>
<rect x="563.70" y="116.70" width="1.16" height="21.52"/>
<rect x="565.48" y="116.70" width="1.16" height="22.25"/>
<rect x="567.26" y="116.70" width="1.16" height="21.80"/>
<rect x="569.04" y="116.70" width="1.16" height="20.39"/>
<rect x="570.82" y="116.70" width="1.16" height="18.36"/>
<rect x="572.60" y="116.70" width="1.16" height="16.02"/>
<rect x="574.38" y="116.70" width="1.16" height="13.49"/>
<rect x="576.16" y="116.70" width="1.16" height="9.95"/>
<rect x="577.94" y="116.70" width="1.16" height="5.83"/>
<rect x="579.72" y="116.70" width="1.16" height="1.78"/>
<rect x="581.50" y="115.01" width="1.16" height="1.69"/>
<rect x="583.28" y="111.61" width="1.16" height="5.09"/>
<rect x="585.06" y="108.52" width="1.16" height="8.18"/>
<rect x="586.84" y="106.10" width="1.16" height="10.60"/>
<rect x="588.62" y="104.10" width="1.16" height="12.60"/>
<rect x="590.40" y="102.36" width="1.16" height="14.34"/>
<rect x="592.18" y="101.39" width="1.16" height="15.31"/>
<rect x="593.96" y="101.58" width="1.16" height="15.12"/>
<rect x="595.74" y="102.66" width="1.16" height="14.04"/>
<rect x="597.52" y="104.28" width="1.16" height="12.42"/>
<rect x="599.30" y="106.10" width="1.16" height="10.60"/>
<rect x="601.08" y="108.66" width="1.16" height="8.04"/>
<rect x="602.86" y="112.08" width="1.16" height="4.62"/>
<rect x="604.64" y="115.38" width="1.16" height="1.32"/>
<rect x="606.42" y="116.70" width="1.16" height="1.17"/>
<rect x="608.20" y="116.70" width="1.16" height="3.58"/>
<rect x="609.98" y="116.70" width="1.16" height="5.93"/>
<rect x="611.76" y="116.70" width="1.16" height="8.00"/>
<rect x="613.54" y="116.70" width="1.16" height="9.59"/>
<rect x="615.32" y="116.70" width="1.16" height="10.48"/>
<rect x="617.10" y="116.70" width="1.16" height="10.52"/>
<rect x="618.88" y="116.70" width="1.16" height="9.94"/>
<rect x="620.66" y="116.70" width="1.16" height="8.87"/>
<rect x="622.44" y="116.70" width="1.16" height="7.44"/>
<rect x="624.22" y="116.70" width="1.16" height="5.74"/>
<rect x="626.00" y="116.70" width="1.16" height="3.89"/>
<rect x="627.78" y="116.70" width="1.16" height="2.00"/>
<rect x="631.34" y="114.85" width="1.16" height="1.85"/>
<rect x="633.12" y="112.42" width="1.16" height="4.28"/>
<rect x="634.90" y="110.05" width="1.16" height="6.65"/>
<rect x="636.68" y="108.22" width="1.16" height="8.48"/>
<rect x="638.46" y="106.78" width="1.16" height="9.92"/>
<rect x="640.24" y="105.44" width="1.16" height="11.26"/>
<rect x="642.02" y="104.43" width="1.16" height="12.27"/>
<rect x="643.80" y="103.98" width="1.16" height="12.72"/>
<rect x="645.58" y="104.57" width="1.16" height="12.13"/>
<rect x="647.36" y="106.19" width="1.16" height="10.51"/>
<rect x="649.14" y="108.22" width="1.16" height="8.48"/>
<rect x="650.92" y="110.90" width="1.16" height="5.80"/>
<rect x="652.70" y="114.32" width="1.16" height="2.38"/>
<rect x="654.48" y="116.70" width="1.16" height="0.96"/>
<rect x="656.26" y="116.70" width="1.16" height="4.19"/>
<rect x="658.04" y="116.70" width="1.16" height="7.44"/>
<rect x="659.82" y="116.70" width="1.16" height="10.72"/>
<rect x="661.60" y="116.70" width="1.16" height="14.04"/>
<rect x="663.38" y="116.70" width="1.16" height="17.39"/>
<rect x="401.72" y="193.30" width="1.16" height="117.30"/>
<rect x="403.50" y="206.76" width="1.16" height="103.84"/>
<rect x="405.28" y="222.10" width="1.16" height="88.50"/>
<rect x="407.06" y="239.80" width="1.16" height="70.80"/>
<rect x="408.84" y="257.50" width="1.16" height="53.10"/>
<rect x="410.62" y="275.20" width="1.16" height="35.40"/>
<rect x="412.40" y="292.90" width="1.16" height="17.70"/>
<rect x="415.96" y="310.60" width="1.16" height="11.57"/>
<rect x="417.74" y="310.60" width="1.16" height="20.35"/>
<rect x="419.52" y="310.60" width="1.16" height="26.48"/>
<rect x="421.30" y="310.60" width="1.16" height="31.72"/>
<rect x="423.08" y="310.60" width="1.16" height="34.73"/>
<rect x="424.86" y="310.60" width="1.16" height="34.14"/>
<rect x="426.64" y="310.60" width="1.16" height="30.86"/>
<rect x="428.42" y="310.60" width="1.16" height="26.13"/>
<rect x="430.20" y="310.60" width="1.16" height="20.66"/>
<rect x="431.98" y="310.60" width="1.16" height="12.73"/>
<rect x="433.76" y="310.60" width="1.16" height="3.06"/>
<rect x="435.54" y="302.14" width="1.16" height="8.46"/>
<rect x="437.32" y="287.29" width="1.16" height="23.31"/>
<rect x="439.10" y="272.40" width="1.16" height="38.20"/>
<rect x="440.88" y="261.04" width="1.16" height="49.56"/>
<rect x="442.66" y="252.53" width="1.16" height="58.07"/>
<rect x="444.44" y="244.56" width="1.16" height="66.04"/>
<rect x="446.22" y="238.29" width="1.16" height="72.31"/>
<rect x="448.00" y="234.83" width="1.16" height="75.77"/>
<rect x="449.78" y="235.44" width="1.16" height="75.16"/>
<rect x="451.56" y="240.53" width="1.16" height="70.07"/>
<rect x="453.34" y="248.46" width="1.16" height="62.14"/>
<rect x="455.12" y="257.50" width="1.16" height="53.10"/>
<rect x="456.90" y="270.28" width="1.16" height="40.32"/>
<rect x="458.68" y="287.38" width="1.16" height="23.22"/>
<rect x="460.46" y="303.99" width="1.16" height="6.61"/>
<rect x="462.24" y="310.60" width="1.16" height="5.68"/>
<rect x="464.02" y="310.60" width="1.16" height="16.04"/>
<rect x="465.80" y="310.60" width="1.16" height="23.60"/>
<rect x="467.58" y="310.60" width="1.16" height="29.11"/>
<rect x="469.36" y="310.60" width="1.16" height="33.41"/>
<rect x="471.14" y="310.60" width="1.16" height="34.91"/>
<rect x="472.92" y="310.60" width="1.16" height="32.88"/>
<rect x="474.70" y="310.60" width="1.16" height="28.59"/>
<rect x="476.48" y="310.60" width="1.16" height="23.60"/>
<rect x="478.26" y="310.60" width="1.16" height="17.70"/>
<rect x="480.04" y="310.60" width="1.16" height="10.29"/>
<rect x="481.82" y="310.60" width="1.16" height="2.34"/>
<rect x="483.60" y="304.76" width="1.16" height="5.84"/>
<rect x="485.38" y="295.49" width="1.16" height="15.11"/>
<rect x="487.16" y="286.25" width="1.16" height="24.35"/>
<rect x="488.94" y="278.30" width="1.16" height="32.30"/>
<rect x="490.72" y="272.42" width="1.16" height="38.18"/>
<rect x="492.50" y="266.87" width="1.16" height="43.73"/>
<rect x="494.28" y="262.01" width="1.16" height="48.59"/>
<rect x="496.06" y="258.62" width="1.16" height="51.98"/>
<rect x="497.84" y="257.53" width="1.16" height="53.07"/>
<rect x="499.62" y="260.69" width="1.16" height="49.91"/>
<rect x="501.40" y="267.37" width="1.16" height="43.23"/>
<rect x="503.18" y="275.20" width="1.16" height="35.40"/>
<rect x="504.96" y="285.30" width="1.16" height="25.30"/>
<rect x="506.74" y="297.97" width="1.16" height="12.63"/>
<rect x="508.52" y="309.63" width="1.16" height="0.97"/>
<rect x="510.30" y="310.60" width="1.16" height="8.49"/>
<rect x="512.08" y="310.60" width="1.16" height="17.08"/>
<rect x="513.86" y="310.60" width="1.16" height="23.60"/>
<rect x="515.64" y="310.60" width="1.16" height="28.73"/>
<rect x="517.42" y="310.60" width="1.16" height="32.76"/>
<rect x="519.20" y="310.60" width="1.16" height="33.94"/>
<rect x="520.98" y="310.60" width="1.16" height="32.48"/>
<rect x="522.76" y="310.60" width="1.16" height="29.49"/>
<rect x="524.54" y="310.60" width="1.16" height="25.64"/>
<rect x="526.32" y="310.60" width="1.16" height="21.16"/>
<rect x="528.10" y="310.60" width="1.16" height="14.42"/>
<rect x="529.88" y="310.60" width="1.16" height="6.38"/>
<rect x="531.66" y="309.03" width="1.16" height="1.57"/>
<rect x="533.44" y="300.12" width="1.16" height="10.48"/>
<rect x="535.22" y="291.22" width="1.16" height="19.38"/>
<rect x="537.00" y="284.64" width="1.16" height="25.96"/>
<rect x="538.78" y="280.05" width="1.16" height="30.55"/>
<rect x="540.56" y="276.01" width="1.16" height="34.59"/>
<rect x="542.34" y="273.18" width="1.16" height="37.42"/>
<rect x="544.12" y="272.27" width="1.16" height="38.33"/>
<rect x="545.90" y="273.91" width="1.16" height="36.69"/>
<rect x="547.68" y="277.58" width="1.16" height="33.02"/>
<rect x="549.46" y="282.24" width="1.16" height="28.36"/>
<rect x="551.24" y="287.41" width="1.16" height="23.19"/>
<rect x="553.02" y="294.76" width="1.16" height="15.84"/>
<rect x="554.80" y="303.07" width="1.16" height="7.53"/>
<rect x="558.36" y="310.60" width="1.16" height="6.65"/>
<rect x="560.14" y="310.60" width="1.16" height="12.86"/>
<rect x="561.92" y="310.60" width="1.16" height="17.70"/>
<rect x="563.70" y="310.60" width="1.16" height="21.62"/>
<rect x="565.48" y="310.60" width="1.16" height="24.81"/>
<rect x="567.26" y="310.60" width="1.16" height="25.95"/>
<rect x="569.04" y="310.60" width="1.16" height="24.86"/>
<rect x="570.82" y="310.60" width="1.16" height="22.44"/>
<rect x="572.60" y="310.60" width="1.16" height="19.32"/>
<rect x="574.38" y="310.60" width="1.16" height="15.82"/>
<rect x="576.16" y="310.60" width="1.16" height="10.78"/>
<rect x="577.94" y="310.60" width="1.16" height="4.97"/>
<rect x="579.72" y="310.09" width="1.16" height="0.51"/>
<rect x="581.50" y="304.72" width="1.16" height="5.88"/>
<rect x="583.28" y="299.36" width="1.16" height="11.24"/>
<rect x="585.06" y="294.73" width="1.16" height="15.87"/>
<rect x="586.84" y="291.25" width="1.16" height="19.35"/>
<rect x="588.62" y="287.99" width="1.16" height="22.61"/>
<rect x="590.40" y="285.28" width="1.16" height="25.32"/>
<rect x="592.18" y="283.73" width="1.16" height="26.87"/>
<rect x="593.96" y="283.98" width="1.16" height="26.62"/>
<rect x="595.74" y="286.08" width="1.16" height="24.52"/>
<rect x="597.52" y="289.31" width="1.16" height="21.29"/>
<rect x="599.30" y="292.90" width="1.16" height="17.70"/>
<rect x="601.08" y="297.08" width="1.16" height="13.52"/>
<rect x="602.86" y="302.41" width="1.16" height="8.19"/>
<rect x="604.64" y="308.61" width="1.16" height="1.99"/>
<rect x="606.42" y="310.60" width="1.16" height="5.86"/>
<rect x="608.20" y="310.60" width="1.16" height="15.33"/>
<rect x="609.98" y="310.60" width="1.16" height="21.71"/>
<rect x="611.76" y="310.60" width="1.16" height="26.79"/>
<rect x="613.54" y="310.60" width="1.16" height="29.03"/>
<rect x="615.32" y="310.60" width="1.16" height="28.07"/>
<rect x="617.10" y="310.60" width="1.16" height="25.62"/>
<rect x="618.88" y="310.60" width="1.16" height="22.34"/>
<rect x="620.66" y="310.60" width="1.16" height="18.88"/>
<rect x="622.44" y="310.60" width="1.16" height="14.64"/>
<rect x="624.22" y="310.60" width="1.16" height="9.30"/>
<rect x="626.00" y="310.60" width="1.16" height="3.95"/>
<rect x="627.78" y="310.24" width="1.16" height="0.36"/>
<rect x="629.56" y="306.80" width="1.16" height="3.80"/>
<rect x="631.34" y="303.70" width="1.16" height="6.90"/>
<rect x="633.12" y="301.01" width="1.16" height="9.59"/>
<rect x="634.90" y="298.80" width="1.16" height="11.80"/>
<rect x="636.68" y="296.77" width="1.16" height="13.83"/>
<rect x="638.46" y="294.87" width="1.16" height="15.73"/>
<rect x="640.24" y="293.52" width="1.16" height="17.08"/>
<rect x="642.02" y="293.17" width="1.16" height="17.43"/>
<rect x="643.80" y="294.24" width="1.16" height="16.36"/>
<rect x="645.58" y="296.33" width="1.16" height="14.27"/>
<rect x="647.36" y="298.80" width="1.16" height="11.80"/>
<rect x="649.14" y="302.00" width="1.16" height="8.60"/>
<rect x="650.92" y="306.18" width="1.16" height="4.42"/>
<rect x="654.48" y="310.60" width="1.16" height="4.77"/>
<rect x="656.26" y="310.60" width="1.16" height="9.83"/>
<rect x="658.04" y="310.60" width="1.16" height="14.16"/>
<rect x="659.82" y="310.60" width="1.16" height="18.08"/>
<rect x="661.60" y="310.60" width="1.16" height="21.11"/>
<rect x="663.38" y="310.60" width="1.16" height="21.47"/>
<rect x="665.16" y="310.60" width="1.16" height="20.33"/>
<rect x="666.94" y="310.60" width="1.16" height="17.66"/>
<rect x="401.72" y="372.80" width="1.16" height="104.80"/>
<rect x="403.50" y="377.40" width="1.16" height="100.20"/>
<rect x="405.28" y="389.12" width="1.16" height="88.48"/>
<rect x="407.06" y="402.98" width="1.16" height="74.62"/>
<rect x="408.84" y="416.84" width="1.16" height="60.76"/>
<rect x="410.62" y="432.83" width="1.16" height="44.77"/>
<rect x="412.40" y="448.82" width="1.16" height="28.78"/>
<rect x="414.18" y="464.81" width="1.16" height="12.79"/>
<rect x="415.96" y="476.47" width="1.16" height="1.13"/>
<rect x="417.74" y="477.60" width="1.16" height="11.07"/>
<rect x="419.52" y="477.60" width="1.16" height="22.57"/>
<rect x="421.30" y="477.60" width="1.16" height="29.91"/>
<rect x="423.08" y="477.60" width="1.16" height="35.66"/>
<rect x="424.86" y="477.60" width="1.16" height="38.46"/>
<rect x="426.64" y="477.60" width="1.16" height="36.66"/>
<rect x="428.42" y="477.60" width="1.16" height="31.62"/>
<rect x="430.20" y="477.60" width="1.16" height="25.29"/>
<rect x="431.98" y="477.60" width="1.16" height="15.79"/>
<rect x="433.76" y="477.60" width="1.16" height="3.72"/>
<rect x="435.54" y="467.70" width="1.16" height="9.90"/>
<rect x="437.32" y="450.95" width="1.16" height="26.65"/>
<rect x="439.10" y="434.51" width="1.16" height="43.09"/>
<rect x="440.88" y="422.17" width="1.16" height="55.43"/>
<rect x="442.66" y="413.08" width="1.16" height="64.52"/>
<rect x="444.44" y="404.67" width="1.16" height="72.93"/>
<rect x="446.22" y="398.09" width="1.16" height="79.51"/>
<rect x="448.00" y="394.49" width="1.16" height="83.11"/>
<rect x="449.78" y="395.06" width="1.16" height="82.54"/>
<rect x="451.56" y="400.05" width="1.16" height="77.55"/>
<rect x="453.34" y="408.01" width="1.16" height="69.59"/>
<rect x="455.12" y="417.41" width="1.16" height="60.19"/>
<rect x="456.90" y="427.66" width="1.16" height="49.94"/>
<rect x="458.68" y="442.23" width="1.16" height="35.37"/>
<rect x="460.46" y="458.76" width="1.16" height="18.84"/>
<rect x="462.24" y="473.86" width="1.16" height="3.74"/>
<rect x="464.02" y="477.60" width="1.16" height="8.16"/>
<rect x="465.80" y="477.60" width="1.16" height="18.86"/>
<rect x="467.58" y="477.60" width="1.16" height="26.65"/>
<rect x="469.36" y="477.60" width="1.16" height="32.22"/>
<rect x="471.14" y="477.60" width="1.16" height="36.77"/>
<rect x="472.92" y="477.60" width="1.16" height="39.05"/>
<rect x="474.70" y="477.60" width="1.16" height="37.94"/>
<rect x="476.48" y="477.60" width="1.16" height="33.92"/>
<rect x="478.26" y="477.60" width="1.16" height="28.39"/>
<rect x="480.04" y="477.60" width="1.16" height="21.30"/>
<rect x="481.82" y="477.60" width="1.16" height="10.77"/>
<rect x="485.38" y="467.35" width="1.16" height="10.25"/>
<rect x="487.16" y="456.81" width="1.16" height="20.79"/>
<rect x="488.94" y="447.07" width="1.16" height="30.53"/>
<rect x="490.72" y="439.22" width="1.16" height="38.38"/>
<rect x="492.50" y="432.43" width="1.16" height="45.17"/>
<rect x="494.28" y="426.04" width="1.16" height="51.56"/>
<rect x="496.06" y="421.40" width="1.16" height="56.20"/>
<rect x="497.84" y="419.85" width="1.16" height="57.75"/>
<rect x="499.62" y="422.46" width="1.16" height="55.14"/>
<rect x="501.40" y="428.23" width="1.16" height="49.37"/>
<rect x="503.18" y="435.52" width="1.16" height="42.08"/>
<rect x="504.96" y="443.41" width="1.16" height="34.19"/>
<rect x="506.74" y="454.28" width="1.16" height="23.32"/>
<rect x="508.52" y="466.47" width="1.16" height="11.13"/>
<rect x="512.08" y="477.60" width="1.16" height="9.97"/>
<rect x="513.86" y="477.60" width="1.16" height="19.35"/>
<rect x="515.64" y="477.60" width="1.16" height="26.65"/>
<rect x="517.42" y="477.60" width="1.16" height="32.56"/>
<rect x="519.20" y="477.60" width="1.16" height="37.38"/>
<rect x="520.98" y="477.60" width="1.16" height="39.11"/>
<rect x="522.76" y="477.60" width="1.16" height="37.42"/>
<rect x="524.54" y="477.60" width="1.16" height="33.70"/>
<rect x="526.32" y="477.60" width="1.16" height="29.02"/>
<rect x="528.10" y="477.60" width="1.16" height="24.09"/>
<rect x="529.88" y="477.60" width="1.16" height="17.72"/>
<rect x="531.66" y="477.60" width="1.16" height="10.24"/>
<rect x="533.44" y="477.60" width="1.16" height="2.35"/>
<rect x="535.22" y="471.49" width="1.16" height="6.11"/>
<rect x="537.00" y="461.70" width="1.16" height="15.90"/>
<rect x="538.78" y="453.01" width="1.16" height="24.59"/>
<rect x="540.56" y="447.31" width="1.16" height="30.29"/>
<rect x="542.34" y="442.42" width="1.16" height="35.18"/>
<rect x="544.12" y="438.59" width="1.16" height="39.01"/>
<rect x="545.90" y="436.73" width="1.16" height="40.87"/>
<rect x="547.68" y="437.82" width="1.16" height="39.78"/>
<rect x="549.46" y="441.75" width="1.16" height="35.85"/>
<rect x="551.24" y="447.11" width="1.16" height="30.49"/>
<rect x="553.02" y="453.05" width="1.16" height="24.55"/>
<rect x="554.80" y="461.37" width="1.16" height="16.23"/>
<rect x="556.58" y="470.71" width="1.16" height="6.89"/>
<rect x="558.36" y="477.60" width="1.16" height="1.59"/>
<rect x="560.14" y="477.60" width="1.16" height="9.85"/>
<rect x="561.92" y="477.60" width="1.16" height="17.61"/>
<rect x="563.70" y="477.60" width="1.16" height="23.45"/>
<rect x="565.48" y="477.60" width="1.16" height="27.86"/>
<rect x="567.26" y="477.60" width="1.16" height="31.80"/>
<rect x="569.04" y="477.60" width="1.16" height="34.57"/>
<rect x="570.82" y="477.60" width="1.16" height="35.49"/>
<rect x="572.60" y="477.60" width="1.16" height="34.23"/>
<rect x="574.38" y="477.60" width="1.16" height="31.35"/>
<rect x="576.16" y="477.60" width="1.16" height="27.54"/>
<rect x="577.94" y="477.60" width="1.16" height="23.45"/>
<rect x="579.72" y="477.60" width="1.16" height="18.51"/>
<rect x="581.50" y="477.60" width="1.16" height="12.21"/>
<rect x="583.28" y="477.60" width="1.16" height="5.35"/>
<rect x="585.06" y="476.29" width="1.16" height="1.31"/>
<rect x="586.84" y="469.20" width="1.16" height="8.40"/>
<rect x="588.62" y="462.11" width="1.16" height="15.49"/>
<rect x="590.40" y="456.28" width="1.16" height="21.32"/>
<rect x="592.18" y="451.22" width="1.16" height="26.38"/>
<rect x="593.96" y="446.84" width="1.16" height="30.76"/>
<rect x="595.74" y="444.98" width="1.16" height="32.62"/>
<rect x="597.52" y="446.35" width="1.16" height="31.25"/>
<rect x="599.30" y="449.74" width="1.16" height="27.86"/>
<rect x="601.08" y="454.09" width="1.16" height="23.51"/>
<rect x="602.86" y="458.70" width="1.16" height="18.90"/>
<rect x="604.64" y="464.81" width="1.16" height="12.79"/>
<rect x="606.42" y="471.69" width="1.16" height="5.91"/>
<rect x="608.20" y="477.60" width="1.16" height="0.61"/>
<rect x="609.98" y="477.60" width="1.16" height="7.07"/>
<rect x="611.76" y="477.60" width="1.16" height="13.51"/>
<rect x="613.54" y="477.60" width="1.16" height="19.10"/>
<rect x="615.32" y="477.60" width="1.16" height="23.34"/>
<rect x="617.10" y="477.60" width="1.16" height="27.35"/>
<rect x="618.88" y="477.60" width="1.16" height="30.52"/>
<rect x="620.66" y="477.60" width="1.16" height="31.97"/>
<rect x="622.44" y="477.60" width="1.16" height="31.15"/>
<rect x="624.22" y="477.60" width="1.16" height="28.68"/>
<rect x="626.00" y="477.60" width="1.16" height="25.19"/>
<rect x="627.78" y="477.60" width="1.16" height="21.32"/>
<rect x="629.56" y="477.60" width="1.16" height="16.22"/>
<rect x="631.34" y="477.60" width="1.16" height="9.52"/>
<rect x="633.12" y="477.60" width="1.16" height="2.55"/>
<rect x="634.90" y="473.81" width="1.16" height="3.79"/>
<rect x="636.68" y="467.26" width="1.16" height="10.34"/>
<rect x="638.46" y="461.13" width="1.16" height="16.47"/>
<rect x="640.24" y="456.28" width="1.16" height="21.32"/>
<rect x="642.02" y="452.21" width="1.16" height="25.39"/>
<rect x="643.80" y="448.62" width="1.16" height="28.98"/>
<rect x="645.58" y="446.60" width="1.16" height="31.00"/>
<rect x="647.36" y="446.99" width="1.16" height="30.61"/>
<rect x="649.14" y="449.18" width="1.16" height="28.42"/>
<rect x="650.92" y="452.50" width="1.16" height="25.10"/>
<rect x="652.70" y="456.28" width="1.16" height="21.32"/>
<rect x="654.48" y="461.38" width="1.16" height="16.22"/>
<rect x="656.26" y="468.22" width="1.16" height="9.38"/>
<rect x="658.04" y="475.52" width="1.16" height="2.08"/>
<rect x="659.82" y="477.60" width="1.16" height="5.12"/>
<rect x="661.60" y="477.60" width="1.16" height="12.81"/>
<rect x="663.38" y="477.60" width="1.16" height="19.19"/>
<rect x="665.16" y="477.60" width="1.16" height="23.99"/>
<rect x="666.94" y="477.60" width="1.16" height="28.01"/>
<rect x="668.72" y="477.60" width="1.16" height="30.91"/>
</g>
<g font-family="'Liberation Sans', Arial, sans-serif" font-weight="bold" font-size="13.4px" fill="#1c1c1c">
<text x="54.3" y="13.2" text-anchor="end">1</text>
<text x="54.3" y="54.3" text-anchor="end">0.9</text>
<text x="54.3" y="95.9" text-anchor="end">0.8</text>
<text x="54.3" y="137.3" text-anchor="end">0.7</text>
<text x="53.6" y="199.2" text-anchor="end">0.7</text>
<text x="53.6" y="240.0" text-anchor="end">0.65</text>
<text x="53.6" y="280.5" text-anchor="end">0.6</text>
<text x="53.6" y="321.4" text-anchor="end">0.55</text>
<text x="53.6" y="362.3" text-anchor="end">0.5</text>
<text x="53.6" y="377.3" text-anchor="end">0.75</text>
<text x="53.6" y="417.0" text-anchor="end">0.7</text>
<text x="53.6" y="457.7" text-anchor="end">0.65</text>
<text x="53.6" y="498.2" text-anchor="end">0.6</text>
<text x="53.6" y="538.8" text-anchor="end">0.55</text>
<text x="58.0" y="549.5" text-anchor="middle">0</text>
<text x="122.4" y="549.5" text-anchor="middle">100</text>
<text x="187.8" y="549.5" text-anchor="middle">200</text>
<text x="253.3" y="549.5" text-anchor="middle">300</text>
<text x="319.1" y="549.5" text-anchor="middle">400</text>
<text x="187.2" y="566.0" text-anchor="middle" font-size="14.2px">Days</text>
<text x="388.2" y="16.0" text-anchor="end">1</text>
<text x="389.0" y="68.3" text-anchor="end">0.5</text>
<text x="389.0" y="121.3" text-anchor="end">0</text>
<text x="389.0" y="174.6" text-anchor="end">−0.5</text>
<text x="388.2" y="197.2" text-anchor="end">1</text>
<text x="389.0" y="256.2" text-anchor="end">0.5</text>
<text x="389.0" y="315.2" text-anchor="end">0</text>
<text x="388.2" y="376.8" text-anchor="end">1</text>
<text x="389.0" y="428.9" text-anchor="end">0.5</text>
<text x="389.0" y="482.2" text-anchor="end">0</text>
<text x="389.0" y="535.5" text-anchor="end">−0.5</text>
<text x="390.8" y="546.3" text-anchor="middle">−5</text>
<text x="430.0" y="546.3" text-anchor="middle">15</text>
<text x="465.4" y="546.3" text-anchor="middle">35</text>
<text x="501.0" y="546.3" text-anchor="middle">55</text>
<text x="536.5" y="546.3" text-anchor="middle">75</text>
<text x="572.2" y="546.3" text-anchor="middle">95</text>
<text x="607.5" y="546.3" text-anchor="middle">115</text>
<text x="643.5" y="546.3" text-anchor="middle">135</text>
<text x="671.5" y="546.3" text-anchor="middle">150</text>
<text x="530.7" y="563.7" text-anchor="middle" font-size="14px">Lag (in days)</text>
<text x="86.3" y="22.8" text-anchor="start" font-size="14.2px">(a)</text>
<text x="272.9" y="27.8" text-anchor="start" font-size="14.2px">(1980)</text>
<text x="84.4" y="208.9" text-anchor="start" font-size="14.2px">(b)</text>
<text x="272.8" y="218.8" text-anchor="start" font-size="14.2px">(1995)</text>
<text x="86.8" y="386.5" text-anchor="start" font-size="14.2px">(c)</text>
<text x="277.6" y="390.9" text-anchor="start" font-size="14.2px">(2005)</text>
<text x="414.7" y="26.7" text-anchor="start" font-size="14.2px">(1980)</text>
<text x="610.6" y="24.7" text-anchor="start" font-size="14.2px">(d)</text>
<text x="407.6" y="211.3" text-anchor="start" font-size="14.2px">(1995)</text>
<text x="612.6" y="206.9" text-anchor="start" font-size="14.2px">(e)</text>
<text x="408.8" y="387.5" text-anchor="start" font-size="14.2px">(2005)</text>
<text x="613.6" y="388.4" text-anchor="start" font-size="14.2px">(f)</text>
<text transform="translate(13.8 376.6) rotate(-90)" font-size="14px">Lyman <tspan font-weight="normal" font-size="13px" font-family="'DejaVu Sans', sans-serif">α</tspan><tspan dx="1.2">emission (Normalized)</tspan></text>
<text transform="translate(360.3 366.0) rotate(-90)" font-size="13.9px">Autocorrelation Coefficient</text>
</g>
</svg>
</body></html>
